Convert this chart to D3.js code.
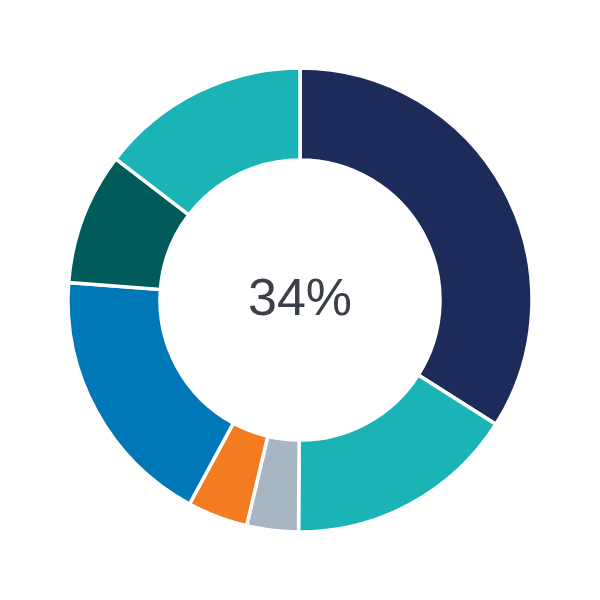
<!DOCTYPE html>
<html>
<head>
<meta charset="utf-8">
<script src="https://cdn.jsdelivr.net/npm/d3@7"></script>
<style>
  body { margin: 0; background: #fff; }
</style>
</head>
<body>
<script>
// slice shares in percent, clockwise from 12 o'clock
const labels = ["A", "B", "C", "D", "E", "F", "G"]
const values = [34, 16.1, 3.6, 4.2, 18.3, 9.2, 14.6]
const colors = ["#1c2b5a", "#1bb4b6", "#a8b5c3", "#f37b20", "#0077b6", "#005b5b", "#1bb4b6"]
const centerLabel = "34%"

let w = 600
let h = 600
let outerR = 232
let innerR = 140

let svg = d3.select("body")
    .append("svg")
    .attr("width", w)
    .attr("height", h)

let g = svg.append("g")
    .attr("transform", "translate(" + w / 2 + "," + h / 2 + ")")

let pie = d3.pie()
    .value((d) => d.value)
    .sort(null)

let arc = d3.arc()
    .innerRadius(innerR)
    .outerRadius(outerR)

let data = labels.map((l, i) => ({ label: l, value: values[i], color: colors[i] }))

g.selectAll("path")
    .data(pie(data))
    .enter().append("path")
    .attr("d", arc)
    .attr("fill", (d) => d.data.color)
    .attr("stroke", "#fff")
    .attr("stroke-width", 3.5)
    .attr("stroke-linejoin", "miter")

g.append("text")
    .text(centerLabel)
    .attr("text-anchor", "middle")
    .attr("y", 15)
    .attr("font-family", "Liberation Sans, Arial, sans-serif")
    .attr("font-size", 52)
    .attr("fill", "#3b3f48")
</script>
</body>
</html>
